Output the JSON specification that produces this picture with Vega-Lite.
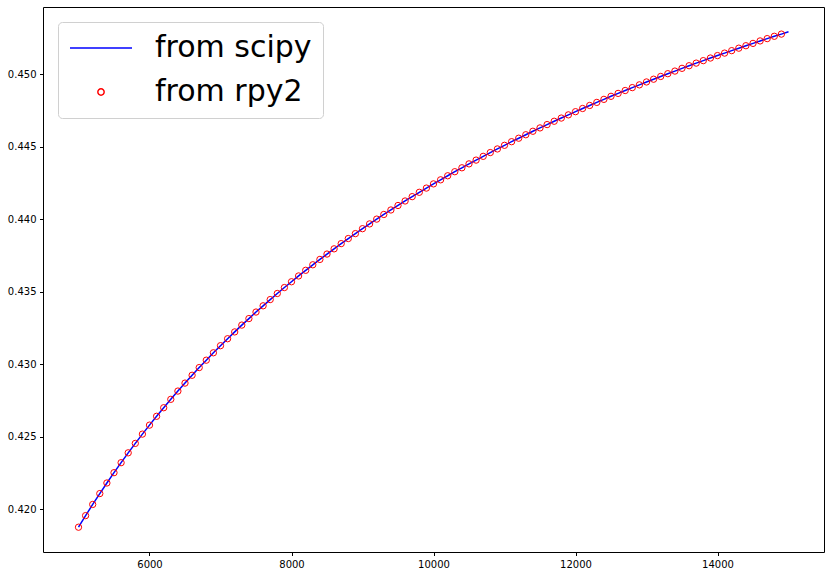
{
  "$schema": "https://vega.github.io/schema/vega-lite/v6.json",
  "width": 781,
  "height": 545,
  "autosize": {"type": "none"},
  "padding": {"left": 43, "top": 7, "right": 7, "bottom": 23},
  "background": "white",
  "config": {
    "font": "DejaVu Sans",
    "view": {"stroke": "black", "strokeWidth": 1},
    "axis": {
      "grid": false,
      "domain": false,
      "ticks": true,
      "tickColor": "black",
      "tickSize": 3.5,
      "tickWidth": 1,
      "labelColor": "black",
      "labelFont": "DejaVu Sans",
      "labelFontSize": 10,
      "labelPadding": 3.5,
      "title": null
    },
    "legend": {
      "orient": "none",
      "legendX": 15,
      "legendY": 15,
      "fillColor": "white",
      "strokeColor": "#d0d0d0",
      "cornerRadius": 4,
      "padding": 11,
      "labelFont": "DejaVu Sans",
      "labelFontSize": 30,
      "labelColor": "black",
      "labelOffset": 22,
      "clipHeight": 30,
      "rowPadding": 14,
      "symbolStrokeWidth": 1.5,
      "title": null
    }
  },
  "datasets": {
    "scipy": [
      {"x": 5000, "y": 0.41875, "series": "from scipy"},
      {"x": 5100, "y": 0.41955, "series": "from scipy"},
      {"x": 5200, "y": 0.42032, "series": "from scipy"},
      {"x": 5300, "y": 0.42107, "series": "from scipy"},
      {"x": 5400, "y": 0.42180, "series": "from scipy"},
      {"x": 5500, "y": 0.42251, "series": "from scipy"},
      {"x": 5600, "y": 0.42320, "series": "from scipy"},
      {"x": 5700, "y": 0.42388, "series": "from scipy"},
      {"x": 5800, "y": 0.42453, "series": "from scipy"},
      {"x": 5900, "y": 0.42517, "series": "from scipy"},
      {"x": 6000, "y": 0.42579, "series": "from scipy"},
      {"x": 6100, "y": 0.42640, "series": "from scipy"},
      {"x": 6200, "y": 0.42699, "series": "from scipy"},
      {"x": 6300, "y": 0.42757, "series": "from scipy"},
      {"x": 6400, "y": 0.42814, "series": "from scipy"},
      {"x": 6500, "y": 0.42869, "series": "from scipy"},
      {"x": 6600, "y": 0.42923, "series": "from scipy"},
      {"x": 6700, "y": 0.42976, "series": "from scipy"},
      {"x": 6800, "y": 0.43027, "series": "from scipy"},
      {"x": 6900, "y": 0.43078, "series": "from scipy"},
      {"x": 7000, "y": 0.43127, "series": "from scipy"},
      {"x": 7100, "y": 0.43175, "series": "from scipy"},
      {"x": 7200, "y": 0.43222, "series": "from scipy"},
      {"x": 7300, "y": 0.43269, "series": "from scipy"},
      {"x": 7400, "y": 0.43314, "series": "from scipy"},
      {"x": 7500, "y": 0.43359, "series": "from scipy"},
      {"x": 7600, "y": 0.43402, "series": "from scipy"},
      {"x": 7700, "y": 0.43445, "series": "from scipy"},
      {"x": 7800, "y": 0.43487, "series": "from scipy"},
      {"x": 7900, "y": 0.43528, "series": "from scipy"},
      {"x": 8000, "y": 0.43568, "series": "from scipy"},
      {"x": 8100, "y": 0.43608, "series": "from scipy"},
      {"x": 8200, "y": 0.43647, "series": "from scipy"},
      {"x": 8300, "y": 0.43685, "series": "from scipy"},
      {"x": 8400, "y": 0.43722, "series": "from scipy"},
      {"x": 8500, "y": 0.43759, "series": "from scipy"},
      {"x": 8600, "y": 0.43795, "series": "from scipy"},
      {"x": 8700, "y": 0.43831, "series": "from scipy"},
      {"x": 8800, "y": 0.43866, "series": "from scipy"},
      {"x": 8900, "y": 0.43900, "series": "from scipy"},
      {"x": 9000, "y": 0.43934, "series": "from scipy"},
      {"x": 9100, "y": 0.43967, "series": "from scipy"},
      {"x": 9200, "y": 0.44000, "series": "from scipy"},
      {"x": 9300, "y": 0.44032, "series": "from scipy"},
      {"x": 9400, "y": 0.44063, "series": "from scipy"},
      {"x": 9500, "y": 0.44094, "series": "from scipy"},
      {"x": 9600, "y": 0.44125, "series": "from scipy"},
      {"x": 9700, "y": 0.44155, "series": "from scipy"},
      {"x": 9800, "y": 0.44185, "series": "from scipy"},
      {"x": 9900, "y": 0.44214, "series": "from scipy"},
      {"x": 10000, "y": 0.44243, "series": "from scipy"},
      {"x": 10100, "y": 0.44271, "series": "from scipy"},
      {"x": 10200, "y": 0.44299, "series": "from scipy"},
      {"x": 10300, "y": 0.44327, "series": "from scipy"},
      {"x": 10400, "y": 0.44354, "series": "from scipy"},
      {"x": 10500, "y": 0.44381, "series": "from scipy"},
      {"x": 10600, "y": 0.44407, "series": "from scipy"},
      {"x": 10700, "y": 0.44433, "series": "from scipy"},
      {"x": 10800, "y": 0.44459, "series": "from scipy"},
      {"x": 10900, "y": 0.44484, "series": "from scipy"},
      {"x": 11000, "y": 0.44509, "series": "from scipy"},
      {"x": 11100, "y": 0.44534, "series": "from scipy"},
      {"x": 11200, "y": 0.44558, "series": "from scipy"},
      {"x": 11300, "y": 0.44582, "series": "from scipy"},
      {"x": 11400, "y": 0.44606, "series": "from scipy"},
      {"x": 11500, "y": 0.44629, "series": "from scipy"},
      {"x": 11600, "y": 0.44652, "series": "from scipy"},
      {"x": 11700, "y": 0.44675, "series": "from scipy"},
      {"x": 11800, "y": 0.44697, "series": "from scipy"},
      {"x": 11900, "y": 0.44719, "series": "from scipy"},
      {"x": 12000, "y": 0.44741, "series": "from scipy"},
      {"x": 12100, "y": 0.44763, "series": "from scipy"},
      {"x": 12200, "y": 0.44784, "series": "from scipy"},
      {"x": 12300, "y": 0.44805, "series": "from scipy"},
      {"x": 12400, "y": 0.44826, "series": "from scipy"},
      {"x": 12500, "y": 0.44847, "series": "from scipy"},
      {"x": 12600, "y": 0.44867, "series": "from scipy"},
      {"x": 12700, "y": 0.44887, "series": "from scipy"},
      {"x": 12800, "y": 0.44907, "series": "from scipy"},
      {"x": 12900, "y": 0.44926, "series": "from scipy"},
      {"x": 13000, "y": 0.44946, "series": "from scipy"},
      {"x": 13100, "y": 0.44965, "series": "from scipy"},
      {"x": 13200, "y": 0.44984, "series": "from scipy"},
      {"x": 13300, "y": 0.45003, "series": "from scipy"},
      {"x": 13400, "y": 0.45021, "series": "from scipy"},
      {"x": 13500, "y": 0.45040, "series": "from scipy"},
      {"x": 13600, "y": 0.45058, "series": "from scipy"},
      {"x": 13700, "y": 0.45076, "series": "from scipy"},
      {"x": 13800, "y": 0.45093, "series": "from scipy"},
      {"x": 13900, "y": 0.45111, "series": "from scipy"},
      {"x": 14000, "y": 0.45128, "series": "from scipy"},
      {"x": 14100, "y": 0.45145, "series": "from scipy"},
      {"x": 14200, "y": 0.45162, "series": "from scipy"},
      {"x": 14300, "y": 0.45179, "series": "from scipy"},
      {"x": 14400, "y": 0.45196, "series": "from scipy"},
      {"x": 14500, "y": 0.45212, "series": "from scipy"},
      {"x": 14600, "y": 0.45229, "series": "from scipy"},
      {"x": 14700, "y": 0.45245, "series": "from scipy"},
      {"x": 14800, "y": 0.45261, "series": "from scipy"},
      {"x": 14900, "y": 0.45276, "series": "from scipy"},
      {"x": 15000, "y": 0.45292, "series": "from scipy"}
    ],
    "rpy2": [
      {"x": 5000, "y": 0.41875, "series": "from rpy2"},
      {"x": 5100, "y": 0.41955, "series": "from rpy2"},
      {"x": 5200, "y": 0.42032, "series": "from rpy2"},
      {"x": 5300, "y": 0.42107, "series": "from rpy2"},
      {"x": 5400, "y": 0.42180, "series": "from rpy2"},
      {"x": 5500, "y": 0.42251, "series": "from rpy2"},
      {"x": 5600, "y": 0.42320, "series": "from rpy2"},
      {"x": 5700, "y": 0.42388, "series": "from rpy2"},
      {"x": 5800, "y": 0.42453, "series": "from rpy2"},
      {"x": 5900, "y": 0.42517, "series": "from rpy2"},
      {"x": 6000, "y": 0.42579, "series": "from rpy2"},
      {"x": 6100, "y": 0.42640, "series": "from rpy2"},
      {"x": 6200, "y": 0.42699, "series": "from rpy2"},
      {"x": 6300, "y": 0.42757, "series": "from rpy2"},
      {"x": 6400, "y": 0.42814, "series": "from rpy2"},
      {"x": 6500, "y": 0.42869, "series": "from rpy2"},
      {"x": 6600, "y": 0.42923, "series": "from rpy2"},
      {"x": 6700, "y": 0.42976, "series": "from rpy2"},
      {"x": 6800, "y": 0.43027, "series": "from rpy2"},
      {"x": 6900, "y": 0.43078, "series": "from rpy2"},
      {"x": 7000, "y": 0.43127, "series": "from rpy2"},
      {"x": 7100, "y": 0.43175, "series": "from rpy2"},
      {"x": 7200, "y": 0.43222, "series": "from rpy2"},
      {"x": 7300, "y": 0.43269, "series": "from rpy2"},
      {"x": 7400, "y": 0.43314, "series": "from rpy2"},
      {"x": 7500, "y": 0.43359, "series": "from rpy2"},
      {"x": 7600, "y": 0.43402, "series": "from rpy2"},
      {"x": 7700, "y": 0.43445, "series": "from rpy2"},
      {"x": 7800, "y": 0.43487, "series": "from rpy2"},
      {"x": 7900, "y": 0.43528, "series": "from rpy2"},
      {"x": 8000, "y": 0.43568, "series": "from rpy2"},
      {"x": 8100, "y": 0.43608, "series": "from rpy2"},
      {"x": 8200, "y": 0.43647, "series": "from rpy2"},
      {"x": 8300, "y": 0.43685, "series": "from rpy2"},
      {"x": 8400, "y": 0.43722, "series": "from rpy2"},
      {"x": 8500, "y": 0.43759, "series": "from rpy2"},
      {"x": 8600, "y": 0.43795, "series": "from rpy2"},
      {"x": 8700, "y": 0.43831, "series": "from rpy2"},
      {"x": 8800, "y": 0.43866, "series": "from rpy2"},
      {"x": 8900, "y": 0.43900, "series": "from rpy2"},
      {"x": 9000, "y": 0.43934, "series": "from rpy2"},
      {"x": 9100, "y": 0.43967, "series": "from rpy2"},
      {"x": 9200, "y": 0.44000, "series": "from rpy2"},
      {"x": 9300, "y": 0.44032, "series": "from rpy2"},
      {"x": 9400, "y": 0.44063, "series": "from rpy2"},
      {"x": 9500, "y": 0.44094, "series": "from rpy2"},
      {"x": 9600, "y": 0.44125, "series": "from rpy2"},
      {"x": 9700, "y": 0.44155, "series": "from rpy2"},
      {"x": 9800, "y": 0.44185, "series": "from rpy2"},
      {"x": 9900, "y": 0.44214, "series": "from rpy2"},
      {"x": 10000, "y": 0.44243, "series": "from rpy2"},
      {"x": 10100, "y": 0.44271, "series": "from rpy2"},
      {"x": 10200, "y": 0.44299, "series": "from rpy2"},
      {"x": 10300, "y": 0.44327, "series": "from rpy2"},
      {"x": 10400, "y": 0.44354, "series": "from rpy2"},
      {"x": 10500, "y": 0.44381, "series": "from rpy2"},
      {"x": 10600, "y": 0.44407, "series": "from rpy2"},
      {"x": 10700, "y": 0.44433, "series": "from rpy2"},
      {"x": 10800, "y": 0.44459, "series": "from rpy2"},
      {"x": 10900, "y": 0.44484, "series": "from rpy2"},
      {"x": 11000, "y": 0.44509, "series": "from rpy2"},
      {"x": 11100, "y": 0.44534, "series": "from rpy2"},
      {"x": 11200, "y": 0.44558, "series": "from rpy2"},
      {"x": 11300, "y": 0.44582, "series": "from rpy2"},
      {"x": 11400, "y": 0.44606, "series": "from rpy2"},
      {"x": 11500, "y": 0.44629, "series": "from rpy2"},
      {"x": 11600, "y": 0.44652, "series": "from rpy2"},
      {"x": 11700, "y": 0.44675, "series": "from rpy2"},
      {"x": 11800, "y": 0.44697, "series": "from rpy2"},
      {"x": 11900, "y": 0.44719, "series": "from rpy2"},
      {"x": 12000, "y": 0.44741, "series": "from rpy2"},
      {"x": 12100, "y": 0.44763, "series": "from rpy2"},
      {"x": 12200, "y": 0.44784, "series": "from rpy2"},
      {"x": 12300, "y": 0.44805, "series": "from rpy2"},
      {"x": 12400, "y": 0.44826, "series": "from rpy2"},
      {"x": 12500, "y": 0.44847, "series": "from rpy2"},
      {"x": 12600, "y": 0.44867, "series": "from rpy2"},
      {"x": 12700, "y": 0.44887, "series": "from rpy2"},
      {"x": 12800, "y": 0.44907, "series": "from rpy2"},
      {"x": 12900, "y": 0.44926, "series": "from rpy2"},
      {"x": 13000, "y": 0.44946, "series": "from rpy2"},
      {"x": 13100, "y": 0.44965, "series": "from rpy2"},
      {"x": 13200, "y": 0.44984, "series": "from rpy2"},
      {"x": 13300, "y": 0.45003, "series": "from rpy2"},
      {"x": 13400, "y": 0.45021, "series": "from rpy2"},
      {"x": 13500, "y": 0.45040, "series": "from rpy2"},
      {"x": 13600, "y": 0.45058, "series": "from rpy2"},
      {"x": 13700, "y": 0.45076, "series": "from rpy2"},
      {"x": 13800, "y": 0.45093, "series": "from rpy2"},
      {"x": 13900, "y": 0.45111, "series": "from rpy2"},
      {"x": 14000, "y": 0.45128, "series": "from rpy2"},
      {"x": 14100, "y": 0.45145, "series": "from rpy2"},
      {"x": 14200, "y": 0.45162, "series": "from rpy2"},
      {"x": 14300, "y": 0.45179, "series": "from rpy2"},
      {"x": 14400, "y": 0.45196, "series": "from rpy2"},
      {"x": 14500, "y": 0.45212, "series": "from rpy2"},
      {"x": 14600, "y": 0.45229, "series": "from rpy2"},
      {"x": 14700, "y": 0.45245, "series": "from rpy2"},
      {"x": 14800, "y": 0.45261, "series": "from rpy2"},
      {"x": 14900, "y": 0.45276, "series": "from rpy2"}
    ]
  },
  "layer": [
    {
      "data": {"name": "scipy"},
      "mark": {"type": "line", "strokeWidth": 1.5, "clip": true},
      "encoding": {
        "x": {"field": "x", "type": "quantitative", "scale": {"domain": [4500, 15500], "nice": false, "zero": false},
              "axis": {"values": [6000, 8000, 10000, 12000, 14000], "format": "d"}},
        "y": {"field": "y", "type": "quantitative", "scale": {"domain": [0.41704, 0.45463], "nice": false, "zero": false},
              "axis": {"values": [0.420, 0.425, 0.430, 0.435, 0.440, 0.445, 0.450], "format": ".3f"}},
        "color": {"field": "series", "type": "nominal",
                  "scale": {"domain": ["from scipy", "from rpy2"], "range": ["#0000ff", "#ff0000"]}}
      }
    },
    {
      "data": {"name": "rpy2"},
      "mark": {"type": "point", "filled": false, "strokeWidth": 1, "opacity": 1},
      "encoding": {
        "x": {"field": "x", "type": "quantitative"},
        "y": {"field": "y", "type": "quantitative"},
        "color": {"field": "series", "type": "nominal"},
        "shape": {"field": "series", "type": "nominal",
                  "scale": {"domain": ["from scipy", "from rpy2"], "range": ["stroke", "circle"]}},
        "size": {"field": "series", "type": "nominal",
                 "scale": {"domain": ["from scipy", "from rpy2"], "range": [3844, 40]}}
      }
    }
  ]
}
